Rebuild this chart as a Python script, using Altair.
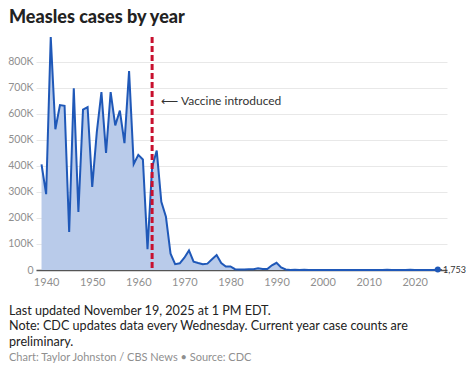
import altair as alt
import pandas as pd

years = list(range(1939, 2026))
cases = [
    405000, 291162, 894134, 540000, 633014, 630291, 146013, 697000, 222375, 615104,
    625281, 319124, 530118, 683077, 449146, 682720, 555156, 611936, 486799, 763094,
    406162, 441703, 423919, 80000, 395000, 458083, 261904, 204136, 62705, 22231,
    25826, 47351, 75290, 32275, 26690, 22094, 24374, 41126, 57345, 26871,
    13597, 13506, 3124, 1714, 1497, 2587, 2822, 6282, 3655, 3396,
    18193, 27786, 9643, 2237, 312, 963, 309, 508, 138, 100,
    100, 86, 116, 44, 56, 37, 66, 55, 43, 140,
    71, 63, 220, 55, 187, 667, 188, 86, 120, 375,
    1274, 13, 49, 121, 59, 285, 1753,
]
x_ticks = [1940, 1950, 1960, 1970, 1980, 1990, 2000, 2010, 2020]
y_ticks = [0, 100000, 200000, 300000, 400000, 500000, 600000, 700000, 800000]
vaccine_year = [1963]
annotation = ["⟵ Vaccine introduced"]
last_label = ["1,753"]
title = "Measles cases by year"
notes = [
    "Last updated November 19, 2025 at 1 PM EDT.",
    "Note: CDC updates data every Wednesday. Current year case counts are",
    "preliminary.",
]
source = "Chart: Taylor Johnston / CBS News • Source: CDC"

df = pd.DataFrame({"year": years, "cases": cases})
last = df.tail(1).assign(x2=2025.9, label=last_label[0])

FONT = "Lato"
LINE = "#1f58b8"
FILL = "#b9cbea"
GREY = "#8f8f8f"
PADL = 28
PADT = 29

xscale = alt.Scale(domain=[1937.8, 2027], nice=False, zero=False)
yscale = alt.Scale(domain=[0, max(cases)], nice=False)

xaxis = alt.Axis(values=x_ticks, format="d", grid=False, ticks=False,
                 domain=True, domainColor="#555", domainWidth=1.5,
                 labelColor=GREY, labelFontSize=11, labelFont=FONT,
                 labelPadding=6, labelOverlap=False, title=None)
yaxis = alt.Axis(values=y_ticks, grid=True, gridColor="#e8e8e8",
                 ticks=False, domain=False, labelColor=GREY,
                 labelFontSize=10.5, labelFont=FONT, labelPadding=3,
                 labelOverlap=False, title=None,
                 labelExpr="datum.value == 0 ? '0' : format(datum.value/1000, 'd') + 'K'")

X = lambda f: alt.X(f, scale=xscale, axis=xaxis)
Y = lambda f: alt.Y(f, scale=yscale, axis=yaxis)

area = alt.Chart(df).mark_area(
    color=FILL, opacity=1,
    line={"color": LINE, "strokeWidth": 2},
).encode(x=X("year:Q"), y=Y("cases:Q"))

rule = alt.Chart(pd.DataFrame({"year": vaccine_year})).mark_rule(
    color="#c8102e", strokeWidth=3, strokeDash=[6, 3]
).encode(x=X("year:Q"))

ann = alt.Chart(pd.DataFrame({"year": [1965.0], "cases": [650000], "t": annotation})).mark_text(
    align="left", baseline="middle", fontSize=12, font=FONT, color="#333"
).encode(x=X("year:Q"), y=Y("cases:Q"), text="t:N")

pt = alt.Chart(last).mark_circle(size=36, color=LINE, opacity=1).encode(
    x=X("year:Q"), y=Y("cases:Q"))

conn = alt.Chart(last).mark_rule(color="#555", strokeWidth=1).encode(
    x=X("year:Q"), x2="x2:Q", y=Y("cases:Q"))

lbl = alt.Chart(last).mark_text(
    align="left", baseline="middle", dx=1, fontSize=9, font=FONT, color="#333"
).encode(x=X("x2:Q"), y=Y("cases:Q"), text="label:N")

ttl = alt.Chart(pd.DataFrame({"t": [title]})).mark_text(
    align="left", baseline="alphabetic", fontSize=18, font=FONT, fontWeight=900, color="#222"
).encode(x=alt.value(-PADL + 1), y=alt.value(-14.5), text="t:N")

note_layers = []
for t, yy in zip(notes, [273.5, 289, 304.5]):
    note_layers.append(
        alt.Chart(pd.DataFrame({"t": [t]})).mark_text(
            align="left", baseline="middle", fontSize=12.6, font=FONT, color="#222"
        ).encode(x=alt.value(-PADL + 1), y=alt.value(yy), text="t:N")
    )
note_layers.append(
    alt.Chart(pd.DataFrame({"t": [source]})).mark_text(
        align="left", baseline="middle", fontSize=11, font=FONT, color=GREY
    ).encode(x=alt.value(-PADL + 1), y=alt.value(321), text="t:N")
)

chart = alt.layer(area, rule, ann, conn, pt, lbl, ttl, *note_layers).properties(
    width=411, height=233,
    padding={"left": PADL, "top": PADT, "right": 19, "bottom": 93},
    autosize=alt.AutoSizeParams(type="none"),
).configure_view(stroke=None).configure_axis(labelOverlap=False)

chart.save("out.html", embed_options={"renderer": "svg", "actions": False})
